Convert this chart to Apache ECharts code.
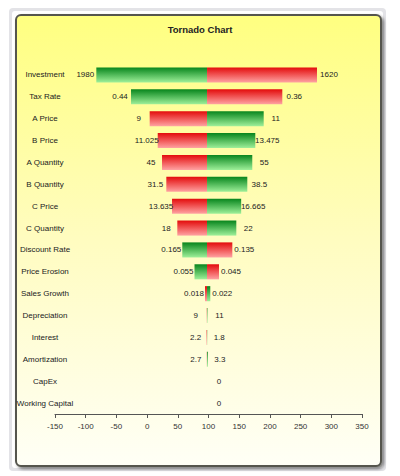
<!DOCTYPE html>
<html>
<head>
<meta charset="utf-8">
<script src="https://cdn.jsdelivr.net/npm/echarts@6/dist/echarts.min.js"></script>
<style>
html,body{margin:0;padding:0;background:#fff;}
#c{width:400px;height:476px;}
</style>
</head>
<body>
<div id="c"></div>
<script>
var categories = ['Investment','Tax Rate','A Price','B Price','A Quantity','B Quantity','C Price','C Quantity','Discount Rate','Price Erosion','Sales Growth','Depreciation','Interest','Amortization','CapEx','Working Capital'];
var baseValue = 97.6;
var leftEnds  = [-82.7, -26.2, 4.2, 17.3, 24.3, 31.3, 40.6, 49.2, 57.3, 77.2, 94.3, 97.2, 96.9, 97.3, 97.6, 97.6];
var rightEnds = [276.7, 220.2, 189.9, 176.2, 171.3, 163.2, 153.2, 145.3, 138.8, 117.1, 102.9, 98.3, 97.9, 98.9, 97.6, 97.6];
var leftInputs  = ['1980','0.44','9','11.025','45','31.5','13.635','18','0.165','0.055','0.018','9','2.2','2.7','',''];
var rightInputs = ['1620','0.36','11','13.475','55','38.5','16.665','22','0.135','0.045','0.022','11','1.8','3.3','0','0'];
var leftIsGreen = [1,1,0,0,0,0,0,0,1,1,0,0,0,0,0,0];
var xTicks = {min:-150, max:350, interval:50};

var greenGrad = function(){ return new echarts.graphic.LinearGradient(0,0,0,1,[{offset:0,color:'#07851c'},{offset:1,color:'#9ff09a'}]); };
var redGrad = function(){ return new echarts.graphic.LinearGradient(0,0,0,1,[{offset:0,color:'#e30b0b'},{offset:1,color:'#ffa3a3'}]); };

var data = categories.map(function(c,i){ return [i, leftEnds[i], rightEnds[i], leftIsGreen[i]]; });

var chart = echarts.init(document.getElementById('c'), null, {renderer:'svg'});
chart.setOption({
  animation:false,
  backgroundColor:'#ffffff',
  graphic:[
    {type:'rect', z:-30, shape:{x:9,y:8,width:377,height:463,r:4}, style:{fill:'#e3e3e7'}},
    {type:'rect', z:-29, shape:{x:12,y:11,width:371,height:457,r:3}, style:{fill:'#ffffff'}},
    {type:'rect', z:-28, shape:{x:16,y:15,width:365,height:451,r:5},
      style:{
        fill:new echarts.graphic.LinearGradient(0,0,0,1,[{offset:0,color:'#ffff80'},{offset:0.5,color:'#fffcc0'},{offset:1,color:'#fffff6'}]),
        stroke:'#55554d', lineWidth:2,
        shadowBlur:3, shadowOffsetX:2, shadowOffsetY:2, shadowColor:'rgba(0,0,0,0.5)'
      }}
  ],
  title:{
    text:'Tornado Chart', left:'center', top:19,
    textStyle:{fontSize:9.5, fontWeight:'bold', color:'#222', fontFamily:'Liberation Sans'}
  },
  grid:{left:55, right:38, top:64, height:350},
  xAxis:{
    type:'value', min:xTicks.min, max:xTicks.max, interval:xTicks.interval,
    axisLine:{show:true, lineStyle:{color:'#555', width:1}},
    axisTick:{show:true, length:4, lineStyle:{color:'#555'}},
    splitLine:{show:false},
    axisLabel:{fontSize:8, color:'#333', margin:8, fontFamily:'Liberation Sans'}
  },
  yAxis:{
    type:'category', data:categories, inverse:true,
    axisLine:{show:false}, axisTick:{show:false}, splitLine:{show:false},
    axisLabel:{fontSize:8, color:'#222', align:'center', margin:10, fontFamily:'Liberation Sans'}
  },
  series:[{
    type:'custom',
    z:5,
    encode:{x:[1,2], y:0},
    data:data,
    renderItem:function(params, api){
      var idx = api.value(0);
      var lo = api.value(1), hi = api.value(2), lg = api.value(3);
      var pBase = api.coord([baseValue, idx]);
      var pLo = api.coord([lo, idx]);
      var pHi = api.coord([hi, idx]);
      var band = api.size([0,1])[1];
      var h = band * 0.69;
      var y0 = pBase[1] - h/2;
      var children = [];
      var lw = pBase[0] - pLo[0];
      var rw = pHi[0] - pBase[0];
      if (lw > 0) children.push({type:'rect', shape:{x:pLo[0], y:y0, width:lw, height:h}, style:{fill: lg ? greenGrad() : redGrad()}});
      if (rw > 0) children.push({type:'rect', shape:{x:pBase[0], y:y0, width:rw, height:h}, style:{fill: lg ? redGrad() : greenGrad()}});
      var li = leftInputs[idx], ri = rightInputs[idx];
      if (li) children.push({type:'text', style:{text:li, x:pLo[0]-11, y:pBase[1], align:'center', verticalAlign:'middle', fontSize:8, fill:'#222', fontFamily:'Liberation Sans'}});
      if (ri) children.push({type:'text', style:{text:ri, x:pHi[0]+12, y:pBase[1], align:'center', verticalAlign:'middle', fontSize:8, fill:'#222', fontFamily:'Liberation Sans'}});
      return {type:'group', children:children};
    }
  }]
});
</script>
</body>
</html>
